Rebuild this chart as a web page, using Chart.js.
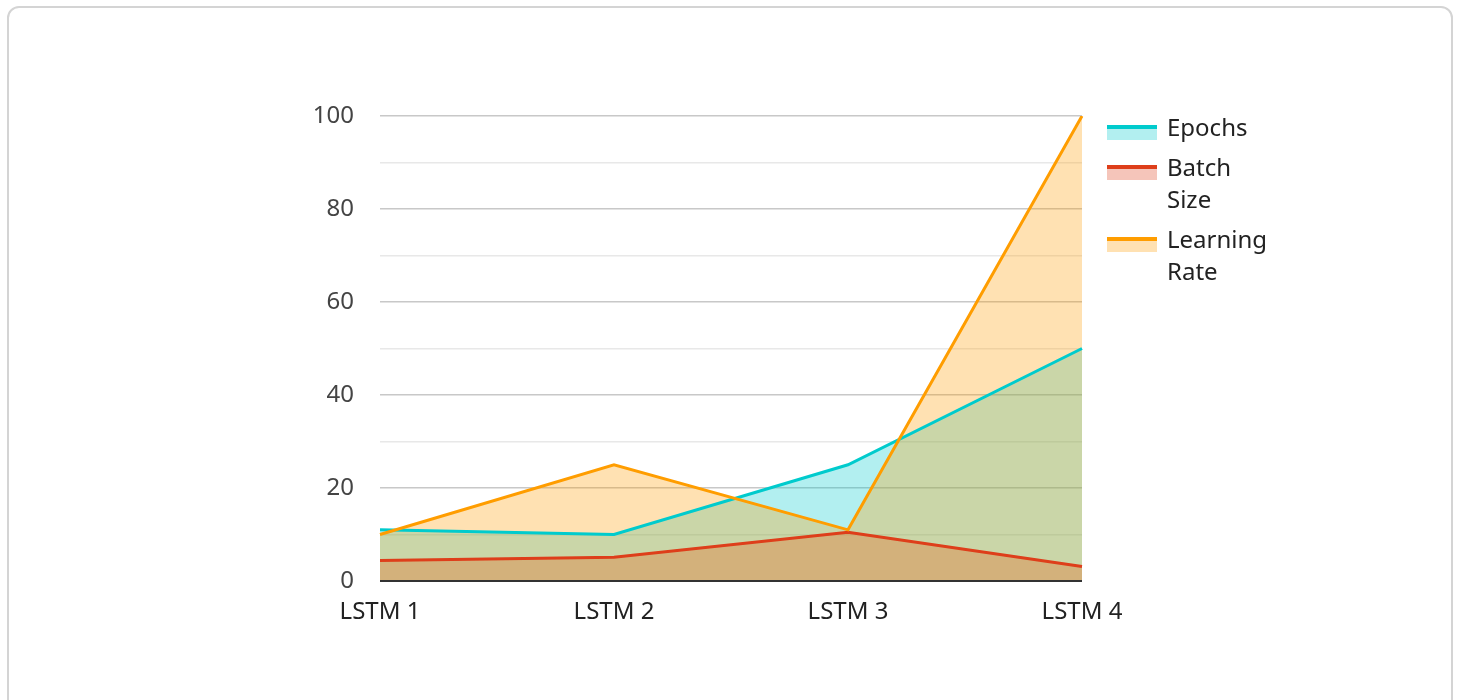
<!DOCTYPE html>
<html>
<head>
<meta charset="utf-8">
<script src="https://cdn.jsdelivr.net/npm/chart.js@4/dist/chart.umd.min.js"></script>
<style>
  html, body { margin: 0; padding: 0; background: #ffffff; width: 1458px; height: 700px; overflow: hidden; }
  #card { position: absolute; left: 7px; top: 6px; width: 1446px; height: 720px; border: 2px solid #d4d4d4; border-radius: 12px; box-sizing: border-box; }
  #c { position: absolute; left: 0; top: 0; }
</style>
</head>
<body>
<div id="card"></div>
<canvas id="c" width="1458" height="700"></canvas>
<script>
const categories = ['LSTM 1', 'LSTM 2', 'LSTM 3', 'LSTM 4'];
const epochs = [11, 10, 25, 50];
const batchSize = [4.4, 5.1, 10.5, 3.1];
const learningRate = [10, 25, 11, 100];
const seriesNames = ['Epochs', 'Batch Size', 'Learning Rate'];
const legendLines = [['Epochs'], ['Batch', 'Size'], ['Learning', 'Rate']];
const yTicks = [0, 20, 40, 60, 80, 100];

const colors = ['#00CBCD', '#DE3E1A', '#FF9D00'];
const fills = ['rgba(0,203,205,0.3)', 'rgba(222,62,26,0.3)', 'rgba(255,157,0,0.3)'];
const FONT = '"Noto Sans", "Open Sans", sans-serif';

const legendPlugin = {
  id: 'customLegend',
  afterDraw(chart) {
    const ctx = chart.ctx;
    ctx.save();
    const x0 = 1107, boxW = 50, textX = 1167;
    const lineHeight = 32;
    let y = 128;
    chart.data.datasets.forEach((ds, i) => {
      const lines = legendLines[i];
      ctx.fillStyle = fills[i];
      ctx.fillRect(x0, y - 2, boxW, 14);
      ctx.fillStyle = ds.borderColor;
      ctx.fillRect(x0, y - 3, boxW, 4);
      ctx.fillStyle = '#222222';
      ctx.font = '24px ' + FONT;
      ctx.textBaseline = 'middle';
      ctx.textAlign = 'left';
      lines.forEach((t, k) => ctx.fillText(t, textX, y + 1 + k * lineHeight));
      y += lines.length * lineHeight + 8;
    });
    ctx.restore();
  }
};

const baselinePlugin = {
  id: 'baseline',
  afterDatasetsDraw(chart) {
    const ctx = chart.ctx;
    const ys = chart.scales.y;
    const a = chart.chartArea;
    const py = Math.round(ys.getPixelForValue(0));
    ctx.save();
    ctx.strokeStyle = '#333333';
    ctx.lineWidth = 2;
    ctx.beginPath();
    ctx.moveTo(a.left, py);
    ctx.lineTo(a.right, py);
    ctx.stroke();
    ctx.restore();
  }
};

new Chart(document.getElementById('c'), {
  type: 'line',
  data: {
    labels: categories,
    datasets: [
      { label: seriesNames[0], data: epochs, borderColor: colors[0], backgroundColor: fills[0], fill: 'origin', order: 2 },
      { label: seriesNames[1], data: batchSize, borderColor: colors[1], backgroundColor: fills[1], fill: 'origin', order: 1 },
      { label: seriesNames[2], data: learningRate, borderColor: colors[2], backgroundColor: fills[2], fill: 'origin', order: 0 }
    ]
  },
  options: {
    responsive: false,
    animation: false,
    events: [],
    layout: { padding: { left: 300, right: 376, top: 116, bottom: 79 } },
    elements: {
      line: { borderWidth: 3, tension: 0 },
      point: { radius: 0 }
    },
    plugins: {
      legend: { display: false },
      tooltip: { enabled: false },
      filler: { drawTime: 'beforeDatasetsDraw' }
    },
    scales: {
      x: {
        offset: false,
        grid: { display: false, drawTicks: false },
        border: { display: false },
        ticks: { color: '#222222', font: { family: FONT, size: 24 }, padding: 17, maxRotation: 0, autoSkip: false },
        afterFit(scale) { scale.height = 40; }
      },
      y: {
        min: 0, max: 100,
        afterBuildTicks(scale) {
          const t = [];
          for (let v = 0; v <= 100; v += 10) t.push({ value: v });
          scale.ticks = t;
        },
        grid: {
          drawTicks: false,
          color: (c) => {
            const v = c.tick ? c.tick.value : 1;
            if (v === 0) return 'rgba(0,0,0,0)';
            return yTicks.includes(v) ? '#c8c8c8' : '#e8e8e8';
          },
          lineWidth: (c) => 1.5
        },
        border: { display: false },
        ticks: {
          color: '#444444',
          font: { family: FONT, size: 24 },
          padding: 26,
          autoSkip: false,
          callback: (v) => (yTicks.includes(v) ? String(v) : '')
        },
        afterFit(scale) { scale.width = 80; }
      }
    }
  },
  plugins: [legendPlugin, baselinePlugin]
});
</script>
</body>
</html>
